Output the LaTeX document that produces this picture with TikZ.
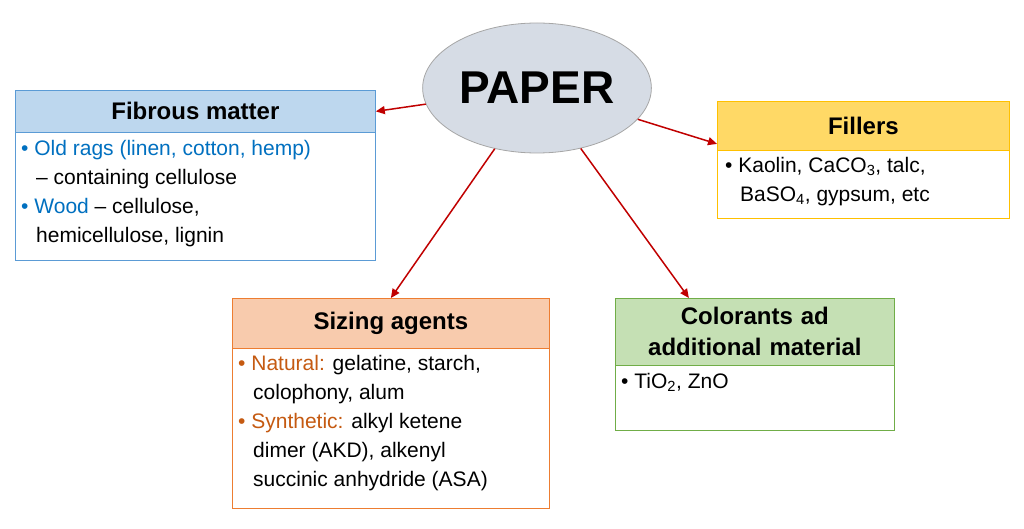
\documentclass[tikz,border=0pt]{standalone}
\usepackage{fontspec}
\setmainfont{Liberation Sans}
\usetikzlibrary{shapes.geometric,arrows.meta}
\definecolor{fibfill}{HTML}{BDD7EE}\definecolor{fibline}{HTML}{5B9BD5}
\definecolor{filfill}{HTML}{FFD966}\definecolor{filline}{HTML}{FFC000}
\definecolor{sizfill}{HTML}{F8CBAD}\definecolor{sizline}{HTML}{ED7D31}
\definecolor{colfill}{HTML}{C5E0B4}\definecolor{colline}{HTML}{70AD47}
\definecolor{ellfill}{HTML}{D6DCE5}\definecolor{ellline}{HTML}{A6A6A6}
\definecolor{arrowred}{HTML}{C00000}
\definecolor{txtblue}{HTML}{0070C0}\definecolor{txtorange}{HTML}{C55A11}
\newcommand{\sub}[1]{\textsubscript{#1}}
\tikzset{
  head/.style={draw=#1line, fill=#1fill, line width=0.8pt, anchor=north west,
    align=center, font=\fontsize{24}{27}\selectfont\bfseries, inner sep=0pt},
  body/.style={draw=#1line, fill=white, line width=0.8pt, anchor=north west, inner sep=0pt},
  btext/.style={anchor=north west, align=left, font=\fontsize{21}{29}\selectfont, inner sep=0pt},
  link/.style={draw=arrowred, line width=1.5pt, -{Triangle[length=9pt,width=8pt]}},
}
\begin{document}
\begin{tikzpicture}[x=1pt,y=-1pt]
  \useasboundingbox (0,0) rectangle (1024,529);
  % centre
  \node[ellipse, draw=ellline, fill=ellfill, line width=0.8pt,
        minimum width=226pt, minimum height=130pt,
        font=\fontsize{46}{50}\selectfont\bfseries] (paper) at (537,88) {PAPER};
  % fibrous matter
  \node[head=fib, minimum width=360pt, minimum height=42pt] (fibhead) at (15,90) {Fibrous matter};
  \node[body=fib, minimum width=360pt, minimum height=128pt] (fibbody) at (15,132) {};
  \node[btext] (fibtxt) at (21,140) {{\color{txtblue}\textbullet\ Old rags (linen, cotton, hemp)}\\
    \hspace*{15pt}– containing cellulose\\
    {\color{txtblue}\textbullet\ Wood} – cellulose,\\
    \hspace*{15pt}hemicellulose, lignin};
  % fillers
  \node[head=fil, minimum width=292pt, minimum height=49pt] (filhead) at (717,101) {Fillers};
  \node[body=fil, minimum width=292pt, minimum height=68pt] (filbody) at (717,150) {};
  \node[btext] (filtxt) at (725,157) {\textbullet\ Kaolin, CaCO\sub{3}, talc,\\
    \hspace*{15pt}BaSO\sub{4}, gypsum, etc};
  % sizing agents
  \node[head=siz, minimum width=317pt, minimum height=50pt] (sizhead) at (232,298) {Sizing agents};
  \node[body=siz, minimum width=317pt, minimum height=160pt] (sizbody) at (232,348) {};
  \node[btext] (siztxt) at (238,355) {{\color{txtorange}\textbullet\ Natural:} gelatine, starch,\\
    \hspace*{15pt}colophony, alum\\
    {\color{txtorange}\textbullet\ Synthetic:} alkyl ketene\\
    \hspace*{15pt}dimer (AKD), alkenyl\\
    \hspace*{15pt}succinic anhydride (ASA)};
  % colorants
  \node[head=col, minimum width=279pt, minimum height=67pt, text width=270pt,
        font=\fontsize{24}{31}\selectfont\bfseries] (colhead) at (615,298) {Colorants ad\\additional material};
  \node[body=col, minimum width=279pt, minimum height=65pt] (colbody) at (615,365) {};
  \node[btext] (coltxt) at (621,373) {\textbullet\ TiO\sub{2}, ZnO};
  % links
  \draw[link] (paper) -- (fibhead.east);
  \draw[link] (paper) -- ([yshift=-18pt]filhead.west);
  \draw[link] (paper) -- (sizhead.north);
  \draw[link] (paper) -- ([xshift=-66pt]colhead.north);
\end{tikzpicture}
\end{document}
